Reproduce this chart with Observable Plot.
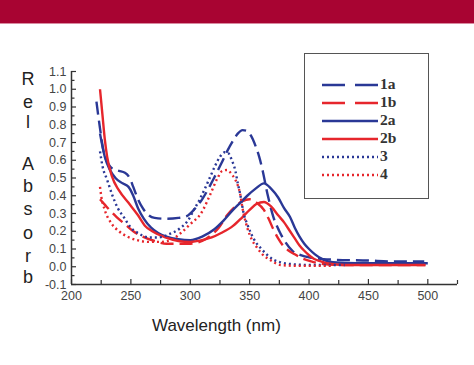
<!DOCTYPE html>
<html>
<head>
<meta charset="utf-8">
<script src="https://cdn.jsdelivr.net/npm/d3@7"></script>
<script src="https://cdn.jsdelivr.net/npm/@observablehq/plot@0.6"></script>
<style>
  html, body { margin: 0; padding: 0; background: #fff; }
  #wrap { position: relative; width: 474px; height: 365px; overflow: hidden; font-family: "Liberation Sans", Arial, sans-serif; }
  #banner { position: absolute; left: 0; top: 0; width: 474px; height: 23px; background: #a80432; border-bottom: 1px solid #d98aa0; }
  #chart { position: absolute; left: 0; top: 0; }
  .ylet { position: absolute; width: 20px; left: 18px; text-align: center; font-size: 18px; color: #222; line-height: 18px; }
  #legend { position: absolute; left: 304px; top: 53px; width: 125px; height: 146px; box-sizing: border-box; border: 1.5px solid #555; background: #fff; }
</style>
</head>
<body>
<div id="wrap">
  <div id="chart"></div>
  <div id="banner"></div>
  <div id="ylabel"></div>
  <div id="legend"></div>
</div>
<script>
// ---- data (wavelength nm, relative absorbance) ----
const s1a = [[221,0.93],[224,0.78],[227,0.65],[231,0.58],[235,0.55],[240,0.54],[245,0.53],[249,0.50],[252,0.45],[256,0.38],[260,0.33],[265,0.29],[270,0.275],[280,0.27],[290,0.275],[297,0.285],[303,0.32],[310,0.38],[320,0.50],[326,0.58],[331,0.65],[336,0.71],[340,0.75],[344,0.77],[348,0.765],[351,0.74],[355,0.68],[358,0.62],[361,0.54],[365,0.41],[370,0.28],[375,0.20],[380,0.14],[386,0.09],[393,0.065],[403,0.05],[420,0.04],[450,0.035],[470,0.03],[497,0.03]];
const s1b = [[224,0.38],[228,0.35],[232,0.32],[238,0.28],[245,0.24],[252,0.20],[260,0.17],[270,0.145],[280,0.13],[290,0.13],[300,0.13],[310,0.145],[318,0.18],[324,0.22],[331,0.29],[338,0.34],[344,0.37],[350,0.38],[356,0.36],[362,0.32],[366,0.27],[370,0.21],[374,0.16],[378,0.12],[383,0.09],[388,0.07],[395,0.045],[402,0.03],[412,0.015],[430,0.01],[498,0.01]];
const s2a = [[224,0.75],[228,0.62],[232,0.55],[237,0.50],[243,0.47],[248,0.45],[252,0.40],[256,0.33],[261,0.27],[267,0.22],[273,0.19],[280,0.17],[290,0.155],[300,0.15],[310,0.17],[320,0.21],[328,0.26],[336,0.32],[342,0.36],[348,0.40],[355,0.44],[362,0.47],[368,0.44],[374,0.39],[379,0.33],[384,0.28],[388,0.22],[392,0.17],[396,0.13],[400,0.10],[405,0.07],[412,0.04],[420,0.025],[440,0.02],[470,0.02],[500,0.02]];
const s2b = [[224,1.0],[226,0.86],[228,0.72],[230,0.62],[234,0.51],[240,0.43],[248,0.36],[256,0.29],[262,0.23],[268,0.20],[279,0.165],[290,0.145],[300,0.14],[310,0.15],[318,0.165],[326,0.19],[336,0.23],[344,0.28],[350,0.32],[356,0.355],[362,0.365],[368,0.34],[374,0.29],[379,0.25],[384,0.20],[388,0.16],[392,0.12],[396,0.09],[400,0.065],[404,0.045],[410,0.03],[416,0.018],[430,0.01],[460,0.01],[498,0.01]];
const s3 = [[224,0.65],[226,0.57],[230,0.49],[234,0.41],[239,0.33],[244,0.28],[250,0.22],[256,0.19],[265,0.165],[273,0.165],[281,0.18],[292,0.22],[298,0.26],[303,0.32],[308,0.38],[313,0.45],[317,0.51],[321,0.57],[325,0.62],[329,0.645],[332,0.64],[335,0.60],[338,0.54],[340,0.47],[342,0.41],[345,0.30],[348,0.24],[351,0.19],[355,0.14],[360,0.10],[365,0.065],[370,0.04],[376,0.025],[385,0.015],[400,0.01],[430,0.01]];
const s4 = [[224,0.45],[225,0.40],[228,0.32],[233,0.25],[240,0.20],[247,0.17],[255,0.15],[265,0.14],[275,0.14],[285,0.155],[292,0.19],[300,0.24],[309,0.30],[317,0.41],[323,0.50],[327,0.54],[331,0.545],[335,0.52],[338,0.49],[342,0.41],[344,0.33],[348,0.22],[352,0.15],[356,0.11],[360,0.075],[368,0.035],[376,0.01],[390,0.005],[420,0.005]];

const seriesNames = ["1a","1b","2a","2b","3","4"];
const xTickLabels = [200,250,300,350,400,450,500];
const yTickLabels = [-0.1,0.0,0.1,0.2,0.3,0.4,0.5,0.6,0.7,0.8,0.9,1.0,1.1];
const yAxisTitle = ["R","e","l","A","b","s","o","r","b"];
const xAxisTitle = "Wavelength (nm)";

// ---- styles ----
const BLUE = "#2a3896", RED = "#e6262c";
const styles = {
  "1a": {stroke: BLUE, dash: "13,6", ldash: "23,10"},
  "1b": {stroke: RED, dash: "13,6", ldash: "23,10"},
  "2a": {stroke: BLUE, dash: null, ldash: null},
  "2b": {stroke: RED, dash: null, ldash: null},
  "3":  {stroke: BLUE, dash: "2,3", ldash: "2,3"},
  "4":  {stroke: RED, dash: "2,3", ldash: "2,3"}
};
const dataBy = {"1a": s1a, "1b": s1b, "2a": s2a, "2b": s2b, "3": s3, "4": s4};

const xMinor = d3.range(xTickLabels.length).map(i => xTickLabels[i] + 25);
const yMinor = yTickLabels.map(v => +(v + 0.05).toFixed(2)).filter(v => v < 1.1);

const Y0 = -0.1, X0 = 200;
const pxY = 1.2 / 213, pxX = 325 / 385.7; // data units per pixel

const lineMarks = seriesNames.map(n => Plot.line(dataBy[n], {
  x: d => d[0], y: d => d[1],
  stroke: styles[n].stroke, strokeWidth: 2.4,
  strokeDasharray: styles[n].dash, curve: "monotone-x",
  strokeLinecap: "butt"
}));

const chart = Plot.plot({
  width: 474, height: 365,
  marginLeft: 71, marginRight: 17, marginTop: 71, marginBottom: 81,
  x: {domain: [200, 525]},
  y: {domain: [-0.1, 1.1]},
  style: {fontFamily: "'Liberation Sans', Arial, sans-serif", background: "transparent", color: "#444"},
  marks: [
    // tick marks (inward)
    Plot.ruleX(xTickLabels, {x: d => d, y1: Y0, y2: Y0 + 5 * pxY, stroke: "#333", strokeWidth: 1.2}),
    Plot.ruleX(xMinor, {x: d => d, y1: Y0, y2: Y0 + 4 * pxY, stroke: "#333", strokeWidth: 1.2}),
    Plot.ruleY(yTickLabels, {y: d => d, x1: X0, x2: X0 + 5 * pxX, stroke: "#333", strokeWidth: 1.2}),
    Plot.ruleY(yMinor, {y: d => d, x1: X0, x2: X0 + 3.5 * pxX, stroke: "#333", strokeWidth: 1.2}),
    Plot.axisX(xTickLabels, {tickSize: 0, tickPadding: 7, fontSize: 12.5, fill: "#444", label: null}),
    Plot.axisY(yTickLabels, {tickSize: 0, tickPadding: 5, fontSize: 12.5, fill: "#444", label: null, tickFormat: d => d.toFixed(1)}),
    ...lineMarks,
    Plot.ruleY([Y0], {stroke: "#333", strokeWidth: 1.5}),
    Plot.ruleX([X0], {stroke: "#333", strokeWidth: 1.5}),
    Plot.text([xAxisTitle], {x: 322, y: Y0, dy: 46, text: d => d, fontSize: 17, fill: "#222", textAnchor: "middle", frameAnchor: "bottom"})
  ]
});
document.getElementById("chart").appendChild(chart);

// Y axis title as stacked letters
const ylab = document.getElementById("ylabel");
const letterTops = [70, 93, 113, 155, 177, 200, 224, 247, 268];
yAxisTitle.forEach((ch, i) => {
  const el = document.createElement("div");
  el.className = "ylet";
  el.style.top = letterTops[i] + "px";
  el.textContent = ch;
  ylab.appendChild(el);
});

// Legend
const NS = "http://www.w3.org/2000/svg";
const lsvg = document.createElementNS(NS, "svg");
lsvg.setAttribute("width", 122); lsvg.setAttribute("height", 143);
const rowY = [31, 49, 67, 85, 103, 121];
seriesNames.forEach((n, i) => {
  const ln = document.createElementNS(NS, "line");
  ln.setAttribute("x1", 17); ln.setAttribute("x2", 73);
  ln.setAttribute("y1", rowY[i]); ln.setAttribute("y2", rowY[i]);
  ln.setAttribute("stroke", styles[n].stroke);
  ln.setAttribute("stroke-width", 2.6);
  if (styles[n].ldash) ln.setAttribute("stroke-dasharray", styles[n].ldash);
  lsvg.appendChild(ln);
  const t = document.createElementNS(NS, "text");
  t.setAttribute("x", 75); t.setAttribute("y", rowY[i] + 4);
  t.setAttribute("font-family", "'Liberation Serif', 'Times New Roman', serif");
  t.setAttribute("font-weight", "bold");
  t.setAttribute("font-size", 15.5);
  t.setAttribute("fill", "#333");
  t.textContent = n;
  lsvg.appendChild(t);
});
document.getElementById("legend").appendChild(lsvg);
</script>
</body>
</html>
